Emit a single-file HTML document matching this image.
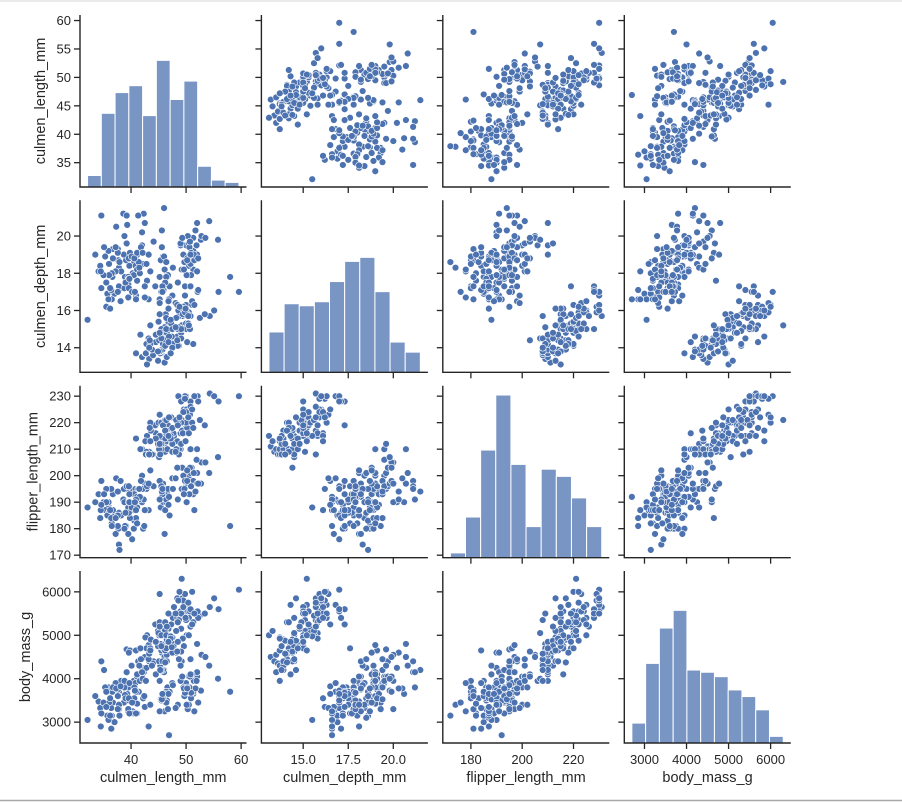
<!DOCTYPE html>
<html><head><meta charset="utf-8"><style>
html,body{margin:0;padding:0;background:#fff;}
svg{display:block;font-family:"Liberation Sans","DejaVu Sans",sans-serif;}
</style></head>
<body>
<svg id="chart" width="902" height="802" viewBox="0 0 902 802" xmlns="http://www.w3.org/2000/svg">
<line x1="0" y1="1" x2="902" y2="1" stroke="#e4e4e4" stroke-width="1.5"/>
<line x1="0" y1="800.5" x2="902" y2="800.5" stroke="#a8a8a8" stroke-width="1.5"/>
</svg>
<script>
const variables = ["culmen_length_mm","culmen_depth_mm","flipper_length_mm","body_mass_g"];
const domains = [[30.725,60.975],[12.68,21.92],[169.05,233.95],[2520,6480]];
const tickValues = [[35,40,45,50,55,60],[14,16,18,20],[170,180,190,200,210,220,230],[3000,4000,5000,6000]];
const xTickValues = [[40,50,60],[15,17.5,20],[180,200,220],[3000,4000,5000,6000]];
const xTickLabels = [["40","50","60"],["15.0","17.5","20.0"],["180","200","220"],["3000","4000","5000","6000"]];
const histEdgesStart = [32.1,13.1,172,2700];
const histEdgesEnd = [59.6,21.5,231,6300];
const histCountsLength = [5,32,41,44,31,55,38,46,9,3,2];
const histCountsDepth = [20,34,33,35,45,55,57,40,15,10];
const histCountsFlipper = [2,17,45,68,39,13,37,34,25,13];
const histCountsMass = [9,36,52,60,33,32,30,24,21,15,3];
const histYMax = [74.7,85.3,71.9,77.8];
const penguins = [
[39.1,18.7,181,3750],[39.5,17.4,186,3800],[40.3,18.0,195,3250],[36.7,19.3,193,3450],[39.3,20.6,190,3650],[38.9,17.8,181,3625],[39.2,19.6,195,4675],[34.1,18.1,193,3475],[42.0,20.2,190,4250],[37.8,17.1,186,3300],
[37.8,17.3,180,3700],[41.1,17.6,182,3200],[38.6,21.2,191,3800],[34.6,21.1,198,4400],[36.6,17.8,185,3700],[38.7,19.0,195,3450],[42.5,20.7,197,4500],[34.4,18.4,184,3325],[46.0,21.5,194,4200],[37.8,18.3,174,3400],
[37.7,18.7,180,3600],[35.9,19.2,189,3800],[38.2,18.1,185,3950],[38.8,17.2,180,3800],[35.3,18.9,187,3800],[40.6,18.6,183,3550],[40.5,17.9,187,3200],[37.9,18.6,172,3150],[40.5,18.9,180,3950],[39.5,16.7,178,3250],
[37.2,18.1,178,3900],[39.5,17.8,188,3300],[40.9,18.9,184,3900],[36.4,17.0,195,3325],[39.2,21.1,196,4150],[38.8,20.0,190,3950],[42.2,18.5,180,3550],[37.6,19.3,181,3300],[39.8,19.1,184,4650],[36.5,18.0,182,3150],
[40.8,18.4,195,3900],[36.0,18.5,186,3100],[44.1,19.7,196,4400],[37.0,16.9,185,3000],[39.6,18.8,190,4600],[41.1,19.0,182,3425],[36.0,17.9,190,3450],[42.3,21.2,191,4150],[39.6,17.7,186,3500],[40.1,18.9,188,4300],
[35.0,17.9,190,3450],[42.0,19.5,200,4050],[34.5,18.1,187,2900],[41.4,18.6,191,3700],[39.0,17.5,186,3550],[40.6,18.8,193,3800],[36.5,16.6,181,2850],[37.6,19.1,194,3750],[35.7,16.9,185,3150],[41.3,21.1,195,4400],
[37.6,17.0,185,3600],[41.1,18.2,192,4050],[36.4,17.1,184,2850],[41.6,18.0,192,3950],[35.5,16.2,195,3350],[41.1,19.1,188,4100],[35.9,16.6,190,3050],[41.8,19.4,198,4450],[33.5,19.0,190,3600],[39.7,18.4,190,3900],
[39.6,17.2,196,3550],[45.8,18.9,197,4150],[35.5,17.5,190,3700],[42.8,18.5,195,4250],[40.9,16.8,191,3700],[37.2,19.4,184,3900],[36.2,16.1,187,3550],[42.1,19.1,195,4000],[34.6,17.2,189,3200],[42.9,17.6,196,4700],
[36.7,18.8,187,3800],[35.1,19.4,193,4200],[32.1,15.5,188,3050],[40.2,17.0,176,3450],[37.3,20.5,199,3775],[45.6,20.3,191,4600],[43.2,19.0,197,4775],[38.1,16.5,198,3825],[36.2,17.2,187,3150],[41.5,18.3,195,4300],
[40.7,17.0,190,3725],[39.7,17.7,193,3200],
[46.5,17.9,192,3500],[50.0,19.5,196,3900],[51.3,19.2,193,3650],[45.4,18.7,188,3525],[52.7,19.8,197,3725],[45.2,17.8,198,3950],[46.1,18.2,178,3250],[51.3,18.2,197,3750],[46.0,18.9,195,4150],[51.3,19.9,198,3700],
[46.6,17.8,193,3800],[51.7,20.3,194,3775],[47.0,17.3,185,3700],[52.0,18.1,201,4050],[45.9,17.1,190,3575],[50.5,19.6,201,4050],[50.3,20.0,197,3300],[58.0,17.8,181,3700],[46.4,18.6,190,3450],[49.2,18.2,195,4400],
[42.4,17.3,181,3600],[48.5,17.5,191,3400],[43.2,16.6,187,2900],[50.6,19.4,193,3800],[46.7,17.9,195,3300],[52.0,19.0,197,4150],[50.5,18.4,200,3400],[49.5,19.0,200,3800],[46.4,17.8,191,3700],[52.8,20.0,205,4550],
[40.9,16.6,187,3200],[54.2,20.8,201,4300],[42.5,16.7,187,3350],[51.0,18.8,203,4100],[49.7,18.6,195,3600],[47.5,16.8,199,3900],[47.6,18.3,195,3850],[52.0,20.7,210,4800],[46.9,16.6,192,2700],[53.5,19.9,205,4500],
[49.0,19.5,210,3950],[46.2,17.5,187,3650],[50.9,19.1,196,3550],[45.5,17.0,196,3500],[50.9,17.9,196,3675],[50.8,18.5,201,4450],[50.1,17.9,190,3400],[49.0,19.6,212,4300],[51.5,18.7,187,3250],[49.8,17.3,198,3675],
[48.1,16.4,199,3325],[51.4,19.0,201,3950],[45.7,17.3,193,3600],[50.7,19.7,203,4050],[42.5,17.3,187,3350],[52.2,18.8,197,3450],[45.2,16.6,191,3250],[49.3,19.9,203,4050],[50.2,18.8,202,3800],[45.6,19.4,194,3525],
[51.9,19.5,206,3950],[46.8,16.5,189,3650],[45.7,17.0,195,3650],[55.8,19.8,207,4000],[43.5,18.1,202,3400],[49.6,18.2,193,3775],[50.8,19.0,210,4100],[50.2,18.7,198,3775],
[46.1,13.2,211,4500],[50.0,16.3,230,5700],[48.7,14.1,210,4450],[50.0,15.2,218,5700],[47.6,14.5,215,5400],[46.5,13.5,210,4550],[45.4,14.6,211,4800],[46.7,15.3,219,5200],[43.3,13.4,209,4400],[46.8,15.4,215,5150],
[40.9,13.7,214,4650],[49.0,16.1,216,5550],[45.5,13.7,214,4650],[48.4,14.6,213,5850],[45.8,14.6,210,4200],[49.3,15.7,217,5850],[42.0,13.5,210,4150],[49.2,15.2,221,6300],[46.2,14.5,209,4800],[48.7,15.1,222,5350],
[50.2,14.3,218,5700],[45.1,14.5,215,5000],[46.5,14.5,213,4400],[46.3,15.8,215,5050],[42.9,13.1,215,5000],[46.1,15.1,215,5100],[44.5,14.3,216,4100],[47.8,15.0,215,5650],[48.2,14.3,210,4600],[50.0,15.3,220,5550],
[47.3,15.3,222,5250],[42.8,14.2,209,4700],[45.1,14.5,207,5050],[59.6,17.0,230,6050],[49.1,14.8,220,5150],[48.4,16.3,220,5400],[42.6,13.7,213,4950],[44.4,17.3,219,5250],[44.0,13.6,208,4350],[48.7,15.7,208,5350],
[42.7,13.7,208,3950],[49.6,16.0,225,5700],[45.3,13.7,210,4300],[49.6,15.0,216,4750],[50.5,15.9,222,5550],[43.6,13.9,217,4900],[45.5,13.9,210,4200],[50.5,15.9,225,5400],[44.9,13.3,213,5100],[45.2,15.8,215,5300],
[46.6,14.2,210,4850],[48.5,14.1,220,5300],[45.1,14.4,210,4400],[50.1,15.0,225,5000],[46.5,14.4,217,4900],[45.0,15.4,220,5050],[43.8,13.9,208,4300],[45.5,15.0,220,5000],[43.2,14.5,208,4450],[50.4,15.3,224,5550],
[45.3,13.8,208,4200],[46.2,14.9,221,5300],[45.7,13.9,214,4400],[54.3,15.7,231,5650],[45.8,14.2,219,4700],[49.8,16.8,230,5700],[46.2,14.4,214,4650],[49.5,16.2,229,5800],[43.5,14.2,220,4700],[50.7,15.0,223,5550],
[47.7,15.0,216,4750],[46.4,15.6,221,5000],[48.2,15.6,221,5100],[46.5,14.8,217,5200],[46.4,15.0,216,4700],[48.6,16.0,230,5800],[47.5,14.2,209,4600],[51.1,16.3,220,6000],[45.2,13.8,215,4750],[45.2,16.4,223,5950],
[49.1,14.5,212,4625],[52.5,15.6,221,5450],[47.4,14.6,212,4725],[50.0,15.9,224,5350],[44.9,13.8,212,4750],[50.8,17.3,228,5600],[43.4,14.4,218,4600],[51.3,14.2,218,5300],[47.5,14.0,212,4875],[52.1,17.0,230,5550],
[47.5,15.0,218,4950],[52.2,17.1,228,5400],[45.5,14.5,212,4750],[49.5,16.1,224,5650],[44.5,14.7,214,4850],[50.8,15.7,226,5200],[49.4,15.8,216,4925],[46.9,14.6,222,4875],[48.4,14.4,203,4625],[51.1,16.5,225,5250],
[48.5,15.0,219,4850],[55.9,17.0,228,5600],[47.2,15.5,215,4975],[49.1,15.0,228,5500],[46.8,16.1,215,5500],[41.7,14.7,210,4700],[53.4,15.8,219,5500],[43.3,14.0,208,4575],[48.1,15.1,209,5500],[50.5,15.2,216,5000],
[49.8,15.9,229,5950],[43.5,15.2,213,4650],[51.5,16.3,230,5500],[46.2,14.1,217,4375],[55.1,16.0,230,5850],[48.8,16.2,222,6000],[47.2,13.7,214,4925],[46.8,14.3,215,4850],[50.4,15.7,222,5750],[45.2,14.8,212,5200],
[49.9,16.1,213,5400]
];
const culmenLength = penguins.map(r => r[0]);
const culmenDepth = penguins.map(r => r[1]);
const flipperLength = penguins.map(r => r[2]);
const bodyMass = penguins.map(r => r[3]);
const columns = [culmenLength, culmenDepth, flipperLength, bodyMass];
const histCounts = [histCountsLength, histCountsDepth, histCountsFlipper, histCountsMass];

const NS = "http://www.w3.org/2000/svg";
const svg = document.getElementById("chart");
const colLeft = [80, 261.4, 442.8, 624.3], panelW = 166.5;
const rowTop = [15, 200.3, 385.7, 571], panelH = 172;
const ink = "#262626", blue = "#4c72b0";
function el(tag, attrs, parent) {
  const e = document.createElementNS(NS, tag);
  for (const k in attrs) e.setAttribute(k, attrs[k]);
  (parent || svg).appendChild(e);
  return e;
}
function xScale(c, v) { const d = domains[c]; return colLeft[c] + (v - d[0]) / (d[1] - d[0]) * panelW; }
function yScale(r, v) { const d = domains[r]; return rowTop[r] + panelH - (v - d[0]) / (d[1] - d[0]) * panelH; }
function short(v) { return v.replace(/_/g, "-"); }

for (let r = 0; r < 4; r++) {
  for (let c = 0; c < 4; c++) {
    const g = el("g", {});
    
    
    const bottom = rowTop[r] + panelH, left = colLeft[c];
    if (r === c) {
      const counts = histCounts[c];
      const w = (histEdgesEnd[c] - histEdgesStart[c]) / counts.length;
      counts.forEach((n, i) => {
        const x0 = xScale(c, histEdgesStart[c] + i * w), x1 = xScale(c, histEdgesStart[c] + (i + 1) * w);
        const h = n / histYMax[c] * panelH;
        const b = el("rect", {x: x0, y: bottom - h, width: x1 - x0, height: h, fill: blue, "fill-opacity": 0.75, stroke: "#fff", "stroke-width": 1}, g);
        
        
      });
    } else {
      const xs = columns[c], ys = columns[r];
      for (let i = 0; i < xs.length; i++) {
        const p = el("circle", {cx: xScale(c, xs[i]), cy: yScale(r, ys[i]), r: 3.4, fill: blue, stroke: "#fff", "stroke-width": 0.6}, g);
        
        
      }
    }
    // spines
    const ax = el("path", {d: `M${left} ${rowTop[r]} V${bottom} H${left + panelW}`, fill: "none", stroke: ink, "stroke-width": 1.4}, g);
    
    
    // y ticks
    tickValues[r].forEach((t, i) => {
      const y = yScale(r, t);
      const tk = el("line", {x1: left - 6, x2: left, y1: y, y2: y, stroke: ink, "stroke-width": 1.3}, g);
      
      
      if (c === 0) {
        const lb = el("text", {x: left - 9, y: y + 4.5, "text-anchor": "end", "font-size": 13, fill: ink}, g);
        lb.textContent = String(t);
        
        
      }
    });
    // x ticks
    xTickValues[c].forEach((t, i) => {
      const x = xScale(c, t);
      const tk = el("line", {x1: x, x2: x, y1: bottom, y2: bottom + 6, stroke: ink, "stroke-width": 1.3}, g);
      
      
      if (r === 3) {
        const lb = el("text", {x: x, y: bottom + 21, "text-anchor": "middle", "font-size": 13, fill: ink}, g);
        lb.textContent = xTickLabels[c][i];
        
        
      }
    });
  }
}
// axis titles
for (let r = 0; r < 4; r++) {
  const maxLen = Math.max(...tickValues[r].map(t => String(t).length));
  const cx = 72 - maxLen * 7.5 - 12;
  const cy = rowTop[r] + panelH / 2;
  const t = el("text", {x: cx, y: cy, transform: `rotate(-90 ${cx} ${cy})`, "text-anchor": "middle", "font-size": 14.5, fill: ink});
  t.textContent = variables[r];
  
  
}
for (let c = 0; c < 4; c++) {
  const t = el("text", {x: colLeft[c] + panelW / 2, y: 782, "text-anchor": "middle", "font-size": 14.5, fill: ink});
  t.textContent = variables[c];
  
  
}
</script>
</body></html>
